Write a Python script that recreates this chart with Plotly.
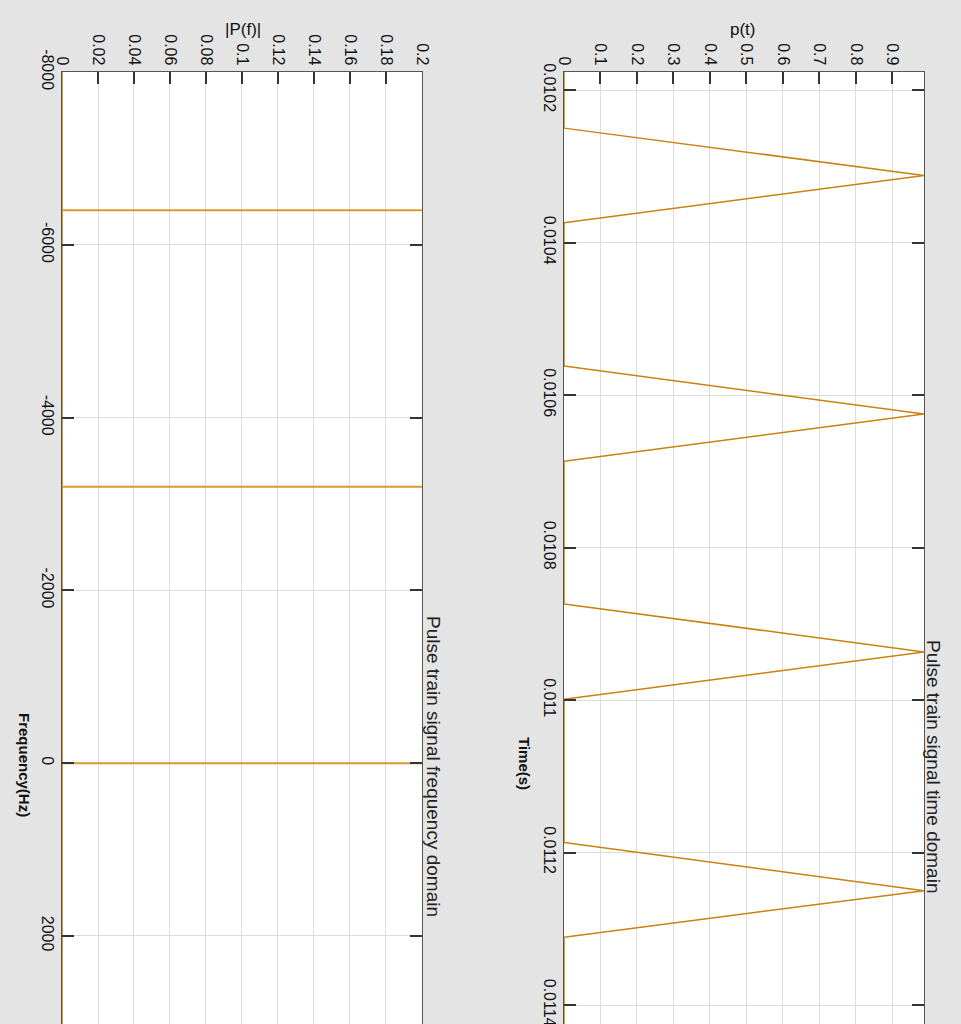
import plotly.graph_objects as go

# ---------------- data ----------------
time_s = [0.010176, 0.010250, 0.010312, 0.010374, 0.010562, 0.010625, 0.010687,
          0.010874, 0.010937, 0.010999, 0.011187, 0.011250, 0.011311, 0.011430]
p_t = [0, 0, 0.987, 0, 0, 0.987, 0, 0, 0.987, 0, 0, 0.987, 0, 0]

freq_start_hz = -8000
freq_end_hz = 3042
harmonic_freqs_hz = [-6400, -3200, 0]
harmonic_mags = [0.2, 0.2, 0.2]

time_ticks = [0.0102, 0.0104, 0.0106, 0.0108, 0.0110, 0.0112, 0.0114]
time_tick_text = ["0.0102", "0.0104", "0.0106", "0.0108", "0.011", "0.0112", "0.0114"]
p_ticks = [0, 0.1, 0.2, 0.3, 0.4, 0.5, 0.6, 0.7, 0.8, 0.9]
p_tick_text = ["0", "0.1", "0.2", "0.3", "0.4", "0.5", "0.6", "0.7", "0.8", "0.9"]
freq_ticks = [-8000, -6000, -4000, -2000, 0, 2000]
freq_tick_text = ["-8000", "-6000", "-4000", "-2000", "0", "2000"]
mag_ticks = [0, 0.02, 0.04, 0.06, 0.08, 0.1, 0.12, 0.14, 0.16, 0.18, 0.2]
mag_tick_text = ["0", "0.02", "0.04", "0.06", "0.08", "0.1", "0.12", "0.14", "0.16", "0.18", "0.2"]

# build the stem path of the spectrum from the lists
spec_f = [freq_start_hz]
spec_m = [0]
for f, m in zip(harmonic_freqs_hz, harmonic_mags):
    spec_f += [f, f, f]
    spec_m += [0, m, 0]
spec_f.append(freq_end_hz)
spec_m.append(0)

FONT = "Liberation Sans, Arial, sans-serif"
LINE = "#c9820f"

fig = go.Figure()
fig.add_trace(go.Scatter(x=spec_m, y=spec_f, mode="lines",
                         line=dict(color="#d9992f", width=2),
                         xaxis="x", yaxis="y", showlegend=False))
fig.add_trace(go.Scatter(x=p_t, y=time_s, mode="lines",
                         line=dict(color=LINE, width=1.5),
                         xaxis="x2", yaxis="y2", showlegend=False))

ax_common = dict(showline=True, linecolor="#555", linewidth=1,
                 ticks="inside", ticklen=12, tickcolor="#333", tickwidth=1.5,
                 showgrid=True, gridcolor="#dcdcdc", gridwidth=1, zeroline=False,
                 ticklabeloverflow="allow",
                 tickfont=dict(family=FONT, size=16, color="#111"))

fig.update_layout(
    width=961, height=1026,
    margin=dict(l=62, r=37, t=72, b=0),
    paper_bgcolor="#e4e4e4", plot_bgcolor="#ffffff",
    xaxis=dict(domain=[0, 0.4176], range=[0, 0.2], side="top", mirror=True,
               tickvals=mag_ticks, ticktext=mag_tick_text, tickangle=90,
               anchor="y", **ax_common),
    yaxis=dict(domain=[0, 1], range=[freq_end_hz, freq_start_hz], mirror="ticks",
               tickvals=freq_ticks, ticktext=freq_tick_text, tickangle=90,
               anchor="x", **ax_common),
    xaxis2=dict(domain=[0.5824, 1], range=[0, 0.987], side="top", mirror=True,
                tickvals=p_ticks, ticktext=p_tick_text, tickangle=90,
                anchor="y2", **ax_common),
    yaxis2=dict(domain=[0, 1], range=[0.0114275, 0.0101764], mirror="ticks",
                tickvals=time_ticks, ticktext=time_tick_text, tickangle=90,
                anchor="x2", **ax_common),
)

# paper coords: plot area x 62..924 px (862 wide), y 72..1026 px (954 tall)
def px(xp):
    return (xp - 62) / 862.0

def py(yp):
    return (1026 - yp) / 954.0

title_font = dict(family=FONT, size=19, color="#222")
label_font = dict(family=FONT, size=15, color="#111")
annotations = [
    dict(text="Pulse train signal time domain", x=px(934), y=py(766), textangle=90, font=title_font),
    dict(text="Pulse train signal frequency domain", x=px(434), y=py(766), textangle=90, font=title_font),
    dict(text="<b>Time(s)</b>", x=px(525), y=py(763), textangle=90, font=label_font),
    dict(text="<b>Frequency(Hz)</b>", x=px(25), y=py(765), textangle=90, font=label_font),
    dict(text="p(t)", x=px(743), y=py(29), textangle=0, font=dict(family=FONT, size=17, color="#111")),
    dict(text="|P(f)|", x=px(243), y=py(29), textangle=0, font=dict(family=FONT, size=17, color="#111")),
]
for a in annotations:
    fig.add_annotation(xref="paper", yref="paper", showarrow=False,
                       xanchor="center", yanchor="middle", **a)

fig.write_html("out.html",
               config={"displayModeBar": False},
               post_script="document.body.style.margin='0';"
                           "document.body.style.overflow='hidden';"
                           "document.documentElement.style.overflow='hidden';"
                           "document.body.style.background='#e4e4e4';")
